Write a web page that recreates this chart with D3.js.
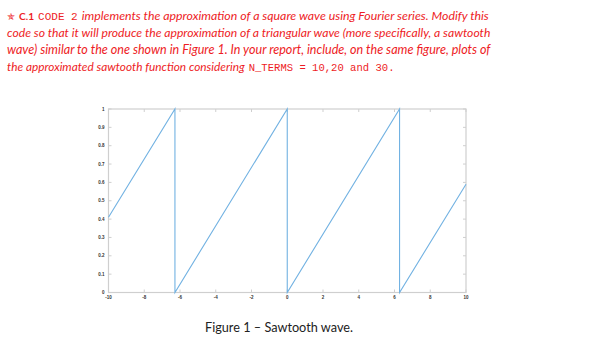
<!DOCTYPE html>
<html>
<head>
<meta charset="utf-8">
<script src="https://cdn.jsdelivr.net/npm/d3@7"></script>
<style>
  body { margin: 0; background: #fff; }
  svg { display: block; }
</style>
</head>
<body>
<svg id="chart" width="590" height="343"></svg>
<script>
// vertices of the sawtooth
const xValues = [-10, -6.283, -6.283, 0, 0, 6.283, 6.283, 10];
const yValues = [0.41, 1, 0, 1, 0, 1, 0, 0.59];
const xTicks = [-10, -8, -6, -4, -2, 0, 2, 4, 6, 8, 10];
const yTicks = [0, 0.1, 0.2, 0.3, 0.4, 0.5, 0.6, 0.7, 0.8, 0.9, 1];

const headerLines = [
  [['star', '\u272F'], ['bold', 'C.1'], ['mono', 'CODE 2'], ['it', 'implements the approximation of a square wave using Fourier series.  Modify this']],
  [['it', 'code so that it will produce the approximation of a triangular wave (more specifically, a sawtooth']],
  [['it', 'wave) similar to the one shown in Figure 1. In your report, include, on the same figure, plots of']],
  [['it', 'the approximated sawtooth function considering'], ['mono', 'N_TERMS = 10,20 and 30.']]
];
const headerY = [20, 37, 54, 71];
const headerW = [482, 484, 484, 388];
const caption = 'Figure 1 \u2013 Sawtooth wave.';

const svg = d3.select('#chart');

// red instruction text: one text per run, font size scaled so each line fits
const baseSize = { star: 11, bold: 11.5, mono: 12.5, it: 14 };
const gap = 4;
headerLines.forEach((parts, i) => {
  const runs = parts.map(([kind, str]) => {
    const t = svg.append('text')
      .attr('y', headerY[i])
      .attr('fill', '#ee1c25')
      .style('font-size', baseSize[kind] + 'px')
      .text(str);
    if (kind === 'mono') t.style('font-family', 'Liberation Mono, monospace');
    else if (kind === 'bold') t.style('font-family', 'Lato, sans-serif').style('font-weight', 'bold');
    else if (kind === 'star') t.style('font-family', 'DejaVu Sans');
    else t.style('font-family', 'Lato, sans-serif').style('font-style', 'italic');
    return t;
  });
  const gaps = gap * (runs.length - 1);
  const natural = d3.sum(runs, t => t.node().getComputedTextLength());
  const k = Math.min(1.06, (headerW[i] - gaps) / natural);
  let cx = 7;
  runs.forEach((t, j) => {
    t.style('font-size', baseSize[parts[j][0]] * k + 'px').attr('x', cx);
    cx += t.node().getComputedTextLength() + gap;
  });
});

const plotL = 108.5, plotR = 466, plotT = 109, plotB = 292.5;

const x = d3.scaleLinear().domain([-10, 10]).range([plotL, plotR]);
const y = d3.scaleLinear().domain([0, 1]).range([plotB, plotT]);

const axisColor = '#cfcfcf';
const g = svg.append('g');

// box
g.append('rect')
  .attr('x', plotL).attr('y', plotT)
  .attr('width', plotR - plotL).attr('height', plotB - plotT)
  .attr('fill', 'none').attr('stroke', axisColor).attr('stroke-width', 1.2);

// ticks on all four sides (inward)
const tl = 3;
g.selectAll('.xtb').data(xTicks).enter().append('line')
  .attr('x1', d => x(d)).attr('x2', d => x(d))
  .attr('y1', plotB).attr('y2', plotB - tl)
  .attr('stroke', axisColor);
g.selectAll('.xtt').data(xTicks).enter().append('line')
  .attr('x1', d => x(d)).attr('x2', d => x(d))
  .attr('y1', plotT).attr('y2', plotT + tl)
  .attr('stroke', axisColor);
g.selectAll('.ytl').data(yTicks).enter().append('line')
  .attr('y1', d => y(d)).attr('y2', d => y(d))
  .attr('x1', plotL).attr('x2', plotL + tl)
  .attr('stroke', axisColor);
g.selectAll('.ytr').data(yTicks).enter().append('line')
  .attr('y1', d => y(d)).attr('y2', d => y(d))
  .attr('x1', plotR).attr('x2', plotR - tl)
  .attr('stroke', axisColor);

// tiny tick labels
g.selectAll('.xl').data(xTicks).enter().append('text')
  .attr('x', d => x(d)).attr('y', plotB + 6)
  .attr('text-anchor', 'middle')
  .attr('fill', '#333')
  .style('font-family', 'Liberation Sans, sans-serif')
  .style('font-size', '4.5px')
  .style('font-weight', 'bold')
  .text(d => d);
g.selectAll('.yl').data(yTicks).enter().append('text')
  .attr('x', plotL - 4).attr('y', d => y(d) + 1.5)
  .attr('text-anchor', 'end')
  .attr('fill', '#333')
  .style('font-family', 'Liberation Sans, sans-serif')
  .style('font-size', '4.5px')
  .style('font-weight', 'bold')
  .text(d => d);

// sawtooth line
const pts = xValues.map((v, i) => [v, yValues[i]]);
const line = d3.line()
  .x(d => x(d[0]))
  .y(d => y(d[1]));
g.append('path')
  .datum(pts)
  .attr('d', line)
  .attr('fill', 'none')
  .attr('stroke', '#72b2e2')
  .attr('stroke-width', 1.1);

// caption, sized to span the same width as in the figure
const cap = svg.append('text')
  .attr('x', 205).attr('y', 332)
  .attr('fill', '#222')
  .style('font-family', 'Lato, sans-serif')
  .style('font-size', '13px')
  .text(caption);
const capW = cap.node().getComputedTextLength();
cap.style('font-size', 13 * 148 / capW + 'px');
</script>
</body>
</html>
